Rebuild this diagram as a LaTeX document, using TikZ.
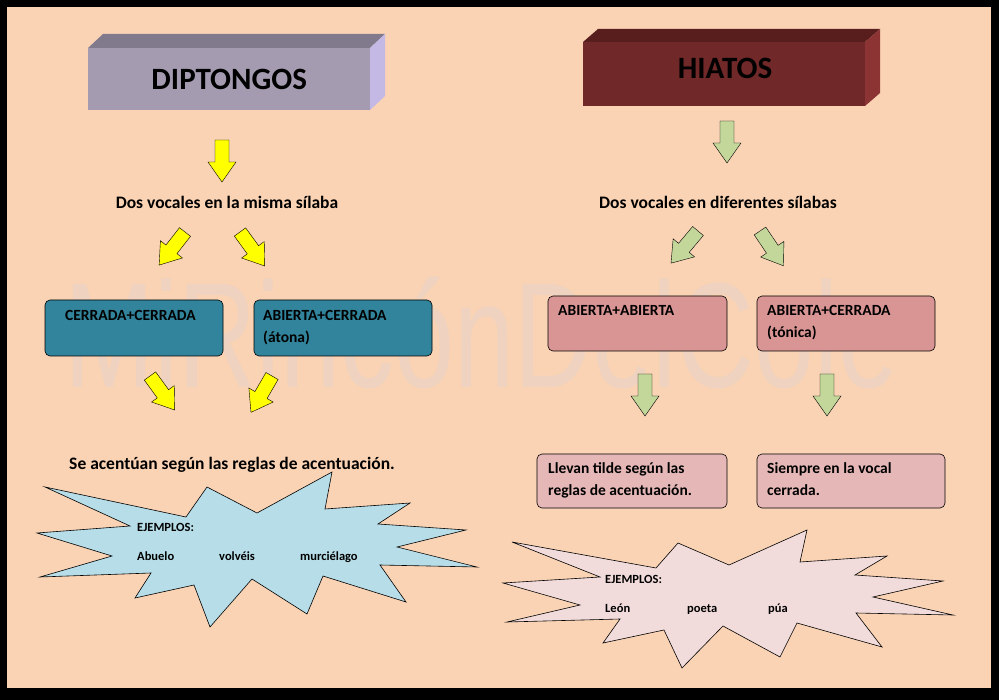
\documentclass[tikz,border=0pt]{standalone}
\usepackage{fontspec}
\setmainfont{Carlito}
\newfontfamily\wmfont{Liberation Sans}
\definecolor{peach}{HTML}{FAD3B4}
\definecolor{yel}{HTML}{FFFF00}
\definecolor{grn}{HTML}{C4D79B}
\definecolor{tealc}{HTML}{31849B}
\definecolor{rose}{HTML}{D99594}
\definecolor{lrose}{HTML}{E5B8B7}
\definecolor{sky}{HTML}{B7DDE8}
\definecolor{pale}{HTML}{F2DCDB}
\definecolor{wm}{HTML}{EFD2BF}
\definecolor{dtop}{HTML}{807A8C}
\definecolor{dside}{HTML}{C4B8E4}
\definecolor{dfront}{HTML}{A49BB0}
\definecolor{htop}{HTML}{581E1E}
\definecolor{hside}{HTML}{8C3434}
\definecolor{hfront}{HTML}{702828}
\tikzset{
  barrow/.pic={\draw[pic actions] (-7,0)--(7,0)--(7,22)--(14,22)--(0,42)--(-14,22)--(-7,22)--cycle;},
  rbox/.style={draw=black, rounded corners=5pt, line width=0.6pt},
  lbl/.style={font=\bfseries\fontsize{15.5}{18}\selectfont, anchor=north west, align=left, inner sep=0pt},
  mid/.style={font=\bfseries\fontsize{17.5}{20}\selectfont, inner sep=0pt},
  ex/.style={font=\bfseries\fontsize{12.5}{14}\selectfont, anchor=base west, inner sep=0pt},
}
\begin{document}
\begin{tikzpicture}[x=1pt,y=-1pt]
\useasboundingbox (0,0) rectangle (999,700);
\fill[black] (0,0) rectangle (999,700);
\fill[peach] (7,7) rectangle (991,688);
\node[text=wm, font=\wmfont\fontsize{150}{150}\selectfont, xscale=0.72, inner sep=0pt] (wmark) at (482,333) {MiRincónDelCole};
\fill[dtop] (88,48)--(103,34)--(385,34)--(370,48)--cycle;
\fill[dside] (370,48)--(385,34)--(385,96)--(370,110)--cycle;
\node[fill=dfront, minimum width=282pt, minimum height=62pt, anchor=north west, inner sep=0pt, font=\bfseries\fontsize{31}{34}\selectfont] (dip) at (88,48) {DIPTONGOS};
\fill[htop] (583,42)--(598,29)--(880,29)--(865,42)--cycle;
\fill[hside] (865,42)--(880,29)--(880,93)--(865,106)--cycle;
\node[fill=hfront, minimum width=282pt, minimum height=64pt, anchor=north west, inner sep=0pt] (hia) at (583,42) {};
\node[font=\bfseries\fontsize{31}{34}\selectfont, inner sep=0pt] (hiat) at (725,68) {HIATOS};
\pic[fill=yel, draw=black] at (222,140) {barrow};
\pic[fill=yel, draw=black, rotate=-38] at (185,232) {barrow};
\pic[fill=yel, draw=black, rotate=36] at (240,232) {barrow};
\pic[fill=yel, draw=black, rotate=36] at (150,376) {barrow};
\pic[fill=yel, draw=black, rotate=-30] at (272,376) {barrow};
\pic[fill=grn, draw=black] at (727,121) {barrow};
\pic[fill=grn, draw=black, rotate=-40] at (698,231) {barrow};
\pic[fill=grn, draw=black, rotate=34] at (760,231) {barrow};
\pic[fill=grn, draw=black] at (645,374) {barrow};
\pic[fill=grn, draw=black] at (827,374) {barrow};
\node[mid] (t1) at (227,202) {Dos vocales en la misma sílaba};
\node[mid] (t2) at (718,202) {Dos vocales en diferentes sílabas};
\node[mid] (t3) at (232,465) {Se acentúan según las reglas de acentuación.};
\draw[rbox, fill=tealc] (45,300) rectangle (223,356);
\node[lbl] (cc) at (65,310) {CERRADA+CERRADA};
\draw[rbox, fill=tealc] (254,300) rectangle (432,356);
\node[lbl] (ac) at (263,310) {ABIERTA+CERRADA\\[4pt](átona)};
\draw[rbox, fill=rose] (548,296) rectangle (727,351);
\node[lbl] (aa) at (558,305) {ABIERTA+ABIERTA};
\draw[rbox, fill=rose] (757,296) rectangle (935,351);
\node[lbl] (act) at (767,305) {ABIERTA+CERRADA\\[4pt](tónica)};
\draw[rbox, fill=lrose] (537,454) rectangle (727,508);
\node[lbl] (ll) at (548,462) {Llevan tilde según las\\[4pt]reglas de acentuación.};
\draw[rbox, fill=lrose] (757,454) rectangle (945,508);
\node[lbl] (sv) at (767,462) {Siempre en la vocal\\[4pt]cerrada.};
\draw[fill=sky, line width=0.6pt] (45,487)--(186,517)--(207,487)--(257,513)--(332,472)--(325,509)--(410,503)--(378,524)--(466,530)--(397,547)--(477,567)--(380,565)--(406,602)--(323,576)--(307,614)--(252,579)--(210,627)--(194,585)--(135,598)--(151,573)--(40,577)--(112,556)--(37,533)--(130,526)--cycle;
\node[ex] (e1) at (137,531) {EJEMPLOS:};
\node[ex] (e2) at (137,560) {Abuelo};
\node[ex] (e3) at (219,560) {volvéis};
\node[ex] (e4) at (300,560) {murciélago};
\draw[fill=pale, line width=0.6pt] (512,542)--(656,568)--(678,543)--(729,565)--(807,530)--(800,562)--(887,556)--(855,575)--(943,581)--(873,597)--(953,615)--(856,613)--(882,647)--(797,623)--(780,657)--(723,626)--(682,668)--(664,630)--(603,643)--(620,619)--(507,622)--(580,605)--(503,583)--(600,577)--cycle;
\node[ex] (f1) at (605,583) {EJEMPLOS:};
\node[ex] (f2) at (605,612) {León};
\node[ex] (f3) at (687,612) {poeta};
\node[ex] (f4) at (768,612) {púa};
\end{tikzpicture}
\end{document}
